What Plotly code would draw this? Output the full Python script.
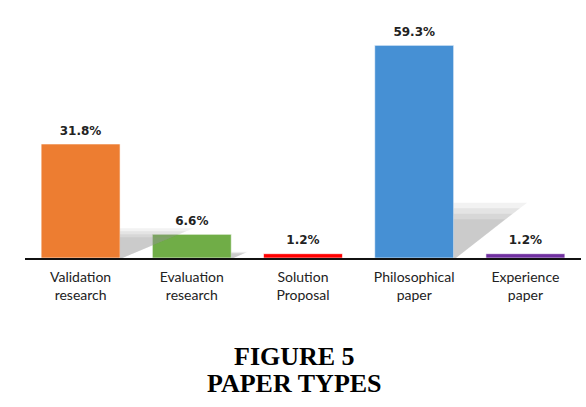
import plotly.graph_objects as go

categories = ["Validation<br>research", "Evaluation<br>research", "Solution<br>Proposal",
              "Philosophical<br>paper", "Experience<br>paper"]
values = [31.8, 6.6, 1.2, 59.3, 1.2]
labels = ["31.8%", "6.6%", "1.2%", "59.3%", "1.2%"]
colors = ["#ED7D31", "#70AD47", "#FF0000", "#4690D4", "#7030A0"]

xs = list(range(len(values)))
fig = go.Figure()

# soft shadows behind the bars (derived from the values)
half = 0.355
for x, v in zip(xs, values):
    if v < 3:
        continue
    h = 0.26 * v
    w = 0.66 if v > 20 else 0.15
    for k, a in [(1.0, 0.12), (0.9, 0.14), (0.8, 0.16), (0.7, 0.18)]:
        px = [x + half, x + half + w * k, x + half + 0.02, x + half]
        py = [h * k, h * k, 0, 0]
        fig.add_trace(go.Scatter(x=px, y=py, fill="toself", mode="lines",
                                 line=dict(width=0), fillcolor=f"rgba(150,150,150,{a})",
                                 hoverinfo="skip", showlegend=False))

fig.add_trace(go.Bar(
    x=xs, y=values, marker=dict(color=colors, line=dict(color="rgba(255,255,255,0.6)", width=1)),
    showlegend=False,
))

fig.add_trace(go.Scatter(
    x=xs, y=[v + 1.8 for v in values], mode="text", text=labels,
    textposition="top center", cliponaxis=False,
    textfont=dict(family="DejaVu Sans", size=12, color="#222222", weight="bold"),
    showlegend=False, hoverinfo="skip",
))

fig.update_layout(
    width=586, height=407,
    margin=dict(l=25, r=5, t=7, b=149),
    paper_bgcolor="white", plot_bgcolor="white",
    bargap=0.29,
    xaxis=dict(range=[-0.5, 4.5], tickmode="array", tickvals=xs, ticktext=categories,
               showline=True, linecolor="#111111", linewidth=2, showgrid=False,
               zeroline=False, ticks="", ticklabelstandoff=5,
               tickfont=dict(family="Lato", size=14, color="#222222")),
    yaxis=dict(range=[0, 70], visible=False, showgrid=False, zeroline=False),
    annotations=[
        dict(text="<b>FIGURE 5</b>", xref="paper", yref="paper",
             x=0.485, y=-0.393, xanchor="center", yanchor="middle", showarrow=False,
             font=dict(family="Liberation Serif", size=26, color="black")),
        dict(text="<b>PAPER TYPES</b>", xref="paper", yref="paper",
             x=0.485, y=-0.50, xanchor="center", yanchor="middle", showarrow=False,
             font=dict(family="Liberation Serif", size=26, color="black")),
    ],
)

fig.write_html("out.html")
